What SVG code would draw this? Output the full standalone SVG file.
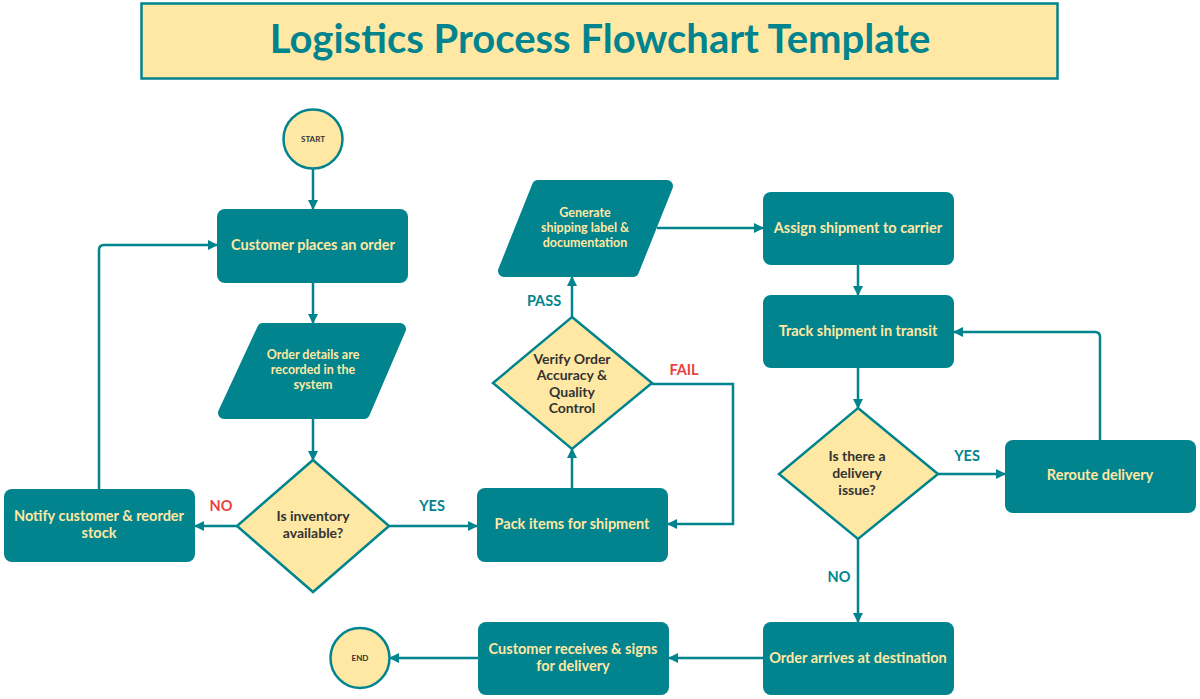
<svg xmlns="http://www.w3.org/2000/svg" width="1200" height="699" viewBox="0 0 1200 699">
<defs>
<marker id="arr" viewBox="0 0 10 10" refX="9" refY="5" markerWidth="4" markerHeight="4" orient="auto" markerUnits="strokeWidth">
<path d="M0,0 L10,5 L0,10 z" fill="#01848E"/>
</marker>
<style>
.box{fill:#01848E;}
.para{fill:#01848E;stroke:#01848E;stroke-width:12;stroke-linejoin:round;}
.dia{fill:#FFE8A3;stroke:#01848E;stroke-width:2.5;stroke-linejoin:miter;}
.term{fill:#FFE8A3;stroke:#01848E;stroke-width:2.5;}
.bt{font-family:Lato,"Open Sans",sans-serif;font-weight:700;font-size:14.5px;fill:#FFE8A3;text-anchor:middle;}
.st{font-family:Lato,"Open Sans",sans-serif;font-weight:700;font-size:12.5px;fill:#FFE8A3;text-anchor:middle;}
.dt{font-family:Lato,"Open Sans",sans-serif;font-weight:700;font-size:14px;fill:#333333;text-anchor:middle;}
.tt{font-family:Lato,"Open Sans",sans-serif;font-weight:700;font-size:8px;fill:#333333;text-anchor:middle;}
.lbl{font-family:Lato,"Open Sans",sans-serif;font-weight:700;font-size:14.5px;text-anchor:middle;}
.conn{fill:none;stroke:#01848E;stroke-width:2.5;marker-end:url(#arr);}
</style>
</defs>
<rect width="1200" height="699" fill="#ffffff"/>
<g id="title">
<rect x="141.5" y="3.5" width="916" height="75" fill="#FFE8A3" stroke="#01848E" stroke-width="2.5"/>
<text x="600" y="53" font-family="Lato,'Open Sans',sans-serif" font-weight="700" font-size="40" fill="#01848E" text-anchor="middle">Logistics Process Flowchart Template</text>
</g>
<g id="connectors">
<path class="conn" d="M313,169 L313,209"/>
<path class="conn" d="M313,283 L313,323"/>
<path class="conn" d="M313,419 L313,460"/>
<path class="conn" d="M237,526 L195,526"/>
<path class="conn" d="M389,526 L477,526"/>
<path class="conn" d="M99,489 L99,250 Q99,245 104,245 L217,245"/>
<path class="conn" d="M572,488 L572,449"/>
<path class="conn" d="M572,317 L572,277"/>
<path class="conn" d="M652,384 L733,384 L733,524 L668,524"/>
<path class="conn" d="M657,228 L763,228"/>
<path class="conn" d="M858,265 L858,295"/>
<path class="conn" d="M858,368 L858,408"/>
<path class="conn" d="M938,474 L1005,474"/>
<path class="conn" d="M1100,440 L1100,337 Q1100,332 1095,332 L954,332"/>
<path class="conn" d="M858,539 L858,622"/>
<path class="conn" d="M763,658 L669,658"/>
<path class="conn" d="M478,658 L390,658"/>
<text class="lbl" x="221" y="511" fill="#E8423F">NO</text>
<text class="lbl" x="432" y="511" fill="#01848E">YES</text>
<text class="lbl" x="544" y="306" fill="#01848E">PASS</text>
<text class="lbl" x="684" y="375" fill="#E8423F">FAIL</text>
<text class="lbl" x="967" y="461" fill="#01848E">YES</text>
<text class="lbl" x="839" y="582" fill="#01848E">NO</text>
</g>
<g id="start">
<circle class="term" cx="313" cy="139" r="29.5"/>
<text class="tt" x="313" y="142">START</text>
</g>
<g id="place-order">
<rect class="box" x="217" y="209" width="191" height="74" rx="8"/>
<text class="bt" x="313" y="250">Customer places an order</text>
</g>
<g id="order-details">
<polygon class="para" points="263,329 400,329 364,413 224,413"/>
<text class="st" x="313" y="359">Order details are</text>
<text class="st" x="313" y="374">recorded in the</text>
<text class="st" x="313" y="389">system</text>
</g>
<g id="inventory">
<polygon class="dia" points="313,460 389,526 313,592 237,526"/>
<text class="dt" x="313" y="521">Is inventory</text>
<text class="dt" x="313" y="538">available?</text>
</g>
<g id="notify">
<rect class="box" x="4" y="489" width="191" height="73" rx="8"/>
<text class="bt" x="99" y="521">Notify customer &amp; reorder</text>
<text class="bt" x="99" y="538">stock</text>
</g>
<g id="pack">
<rect class="box" x="477" y="488" width="191" height="74" rx="8"/>
<text class="bt" x="572" y="529">Pack items for shipment</text>
</g>
<g id="verify">
<polygon class="dia" points="572,317 652,383 572,449 493,383"/>
<text class="dt" x="572" y="364">Verify Order</text>
<text class="dt" x="572" y="380">Accuracy &amp;</text>
<text class="dt" x="572" y="397">Quality</text>
<text class="dt" x="572" y="413">Control</text>
</g>
<g id="generate">
<polygon class="para" points="538,186 667,186 633,271 504,271"/>
<text class="st" x="585" y="217">Generate</text>
<text class="st" x="585" y="232">shipping label &amp;</text>
<text class="st" x="585" y="247">documentation</text>
</g>
<g id="assign">
<rect class="box" x="763" y="192" width="191" height="73" rx="8"/>
<text class="bt" x="858" y="233">Assign shipment to carrier</text>
</g>
<g id="track">
<rect class="box" x="763" y="295" width="191" height="73" rx="8"/>
<text class="bt" x="858" y="336">Track shipment in transit</text>
</g>
<g id="issue">
<polygon class="dia" points="858,408 938,474 858,539 779,474"/>
<text class="dt" x="857" y="461">Is there a</text>
<text class="dt" x="857" y="478">delivery</text>
<text class="dt" x="857" y="495">issue?</text>
</g>
<g id="reroute">
<rect class="box" x="1005" y="440" width="191" height="73" rx="8"/>
<text class="bt" x="1100" y="480">Reroute delivery</text>
</g>
<g id="arrives">
<rect class="box" x="763" y="622" width="191" height="73" rx="8"/>
<text class="bt" x="858" y="663">Order arrives at destination</text>
</g>
<g id="receives">
<rect class="box" x="478" y="622" width="191" height="73" rx="8"/>
<text class="bt" x="573" y="654">Customer receives &amp; signs</text>
<text class="bt" x="573" y="671">for delivery</text>
</g>
<g id="end">
<ellipse class="term" cx="360" cy="658" rx="29.5" ry="30"/>
<text class="tt" x="360" y="661">END</text>
</g>
</svg>
